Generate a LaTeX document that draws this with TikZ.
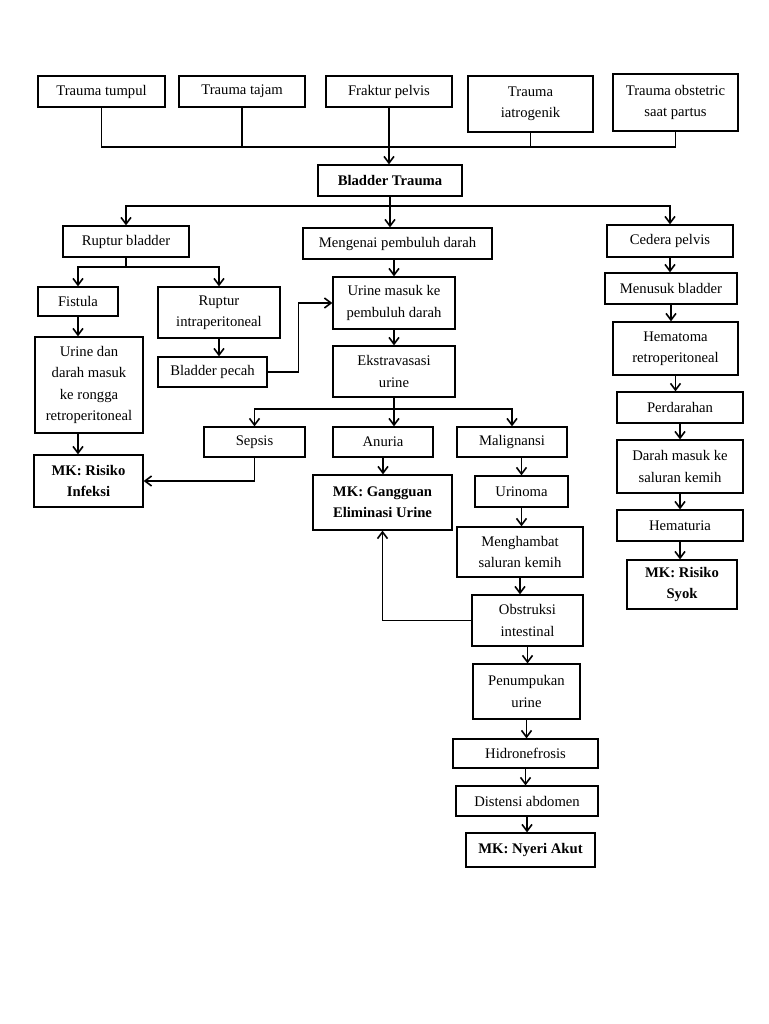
\documentclass[tikz,border=0pt]{standalone}
\usepackage{fontspec}
\setmainfont{Liberation Serif}
\usetikzlibrary{arrows.meta}

\begin{document}
\begin{tikzpicture}[x=0.75pt, y=-0.75pt,
  box/.style={draw, line width=0.9pt, align=center, inner sep=1pt,
    font=\fontsize{11}{16}\selectfont},
  mk/.style={box, font=\fontsize{11}{16}\selectfont\bfseries},
  link/.style={line width=0.8pt},
  arr/.style={line width=0.8pt, -{Straight Barb[length=5pt, width=7.5pt, line width=1.2pt]}}]
  \useasboundingbox (0,0) rectangle (768,1024);

  % Causes
  \node[box, minimum width=95.25pt, minimum height=23.25pt] (tumpul) at (101.5,91.5) {Trauma tumpul};
  \node[box, minimum width=94.5pt, minimum height=23.25pt] (tajam) at (242,91.5) {Trauma tajam};
  \node[box, minimum width=94.5pt, minimum height=23.25pt] (fraktur) at (389,91.5) {Fraktur pelvis};
  \node[box, minimum width=93.75pt, minimum height=42pt] (iatro) at (530.5,104) {Trauma\\iatrogenik};
  \node[box, minimum width=93.75pt, minimum height=42.75pt] (obstet) at (675.5,102.5) {Trauma obstetric\\saat partus};

  % Bladder trauma
  \node[mk, minimum width=108pt, minimum height=23.25pt] (bladder) at (390,180.5) {Bladder Trauma};

  % Second level
  \node[box, minimum width=94.5pt, minimum height=23.25pt] (ruptur) at (126,241.5) {Ruptur bladder};
  \node[box, minimum width=141.75pt, minimum height=23.25pt] (mengenai) at (397.5,243.5) {Mengenai pembuluh darah};
  \node[box, minimum width=94.5pt, minimum height=24pt] (cedera) at (670,241) {Cedera pelvis};

  % Left column
  \node[box, minimum width=60pt, minimum height=21.75pt] (fistula) at (78,301.5) {Fistula};
  \node[box, minimum width=91.5pt, minimum height=38.25pt] (intraper) at (219,312.5) {Ruptur\\intraperitoneal};
  \node[box, minimum width=81.75pt, minimum height=22.5pt] (pecah) at (212.5,372) {Bladder pecah};
  \node[box, minimum width=81pt, minimum height=72pt] (urdarah) at (89,385) {Urine dan\\darah masuk\\ke rongga\\retroperitoneal};
  \node[mk, minimum width=81.75pt, minimum height=39pt] (infeksi) at (88.5,481) {MK: Risiko\\Infeksi};

  % Middle column
  \node[box, minimum width=91.5pt, minimum height=39pt] (urmasuk) at (394,303) {Urine masuk ke\\pembuluh darah};
  \node[box, minimum width=91.5pt, minimum height=38.25pt] (ekstra) at (394,371.5) {Ekstravasasi\\urine};
  \node[box, minimum width=75.75pt, minimum height=22.5pt] (sepsis) at (254.5,442) {Sepsis};
  \node[box, minimum width=75pt, minimum height=22.5pt] (anuria) at (383,442) {Anuria};
  \node[box, minimum width=82.5pt, minimum height=22.5pt] (malig) at (512,442) {Malignansi};
  \node[mk, minimum width=104.25pt, minimum height=41.25pt] (elimin) at (382.5,502.5) {MK: Gangguan\\Eliminasi Urine};
  \node[box, minimum width=69.75pt, minimum height=23.25pt] (urinoma) at (521.5,491.5) {Urinoma};
  \node[box, minimum width=94.5pt, minimum height=37.5pt] (hambat) at (520,552) {Menghambat\\saluran kemih};
  \node[box, minimum width=83.25pt, minimum height=38.25pt] (obstruksi) at (527.5,620.5) {Obstruksi\\intestinal};
  \node[box, minimum width=80.25pt, minimum height=41.25pt] (numpuk) at (526.5,691.5) {Penumpukan\\urine};
  \node[box, minimum width=108.75pt, minimum height=21.75pt] (hidro) at (525.5,753.5) {Hidronefrosis};
  \node[box, minimum width=106.5pt, minimum height=22.5pt] (distensi) at (527,801) {Distensi abdomen};
  \node[mk, minimum width=96.75pt, minimum height=25.5pt] (nyeri) at (530.5,850) {MK: Nyeri Akut};

  % Right column
  \node[box, minimum width=99pt, minimum height=23.25pt] (menusuk) at (671,288.5) {Menusuk bladder};
  \node[box, minimum width=93.75pt, minimum height=39.75pt] (hematoma) at (675.5,348.5) {Hematoma\\retroperitoneal};
  \node[box, minimum width=94.5pt, minimum height=23.25pt] (perdarahan) at (680,407.5) {Perdarahan};
  \node[box, minimum width=94.5pt, minimum height=39.75pt] (darahkemih) at (680,466.5) {Darah masuk ke\\saluran kemih};
  \node[box, minimum width=94.5pt, minimum height=23.25pt] (hematuria) at (680,525.5) {Hematuria};
  \node[mk, minimum width=82.5pt, minimum height=36.75pt] (syok) at (682,584.5) {MK: Risiko\\Syok};

  % Junctions
  \coordinate (bus1) at (389,147);
  \coordinate (bus2) at (390,206);
  \coordinate (bus3) at (126,267);
  \coordinate (bus4) at (394,409);

  % Causes to bladder trauma
  \draw[link] (tumpul.south) |- (bus1) -| (obstet.south);
  \draw[link] (tajam.south) -- (tajam.south |- bus1);
  \draw[link] (iatro.south) -- (iatro.south |- bus1);
  \draw[arr] (fraktur.south) -- (fraktur.south |- bladder.north);

  % Bladder trauma branches
  \draw[link] (bladder.south) -- (bus2);
  \draw[arr] (bus2) -| (ruptur.north);
  \draw[arr] (bus2) -| (cedera.north);
  \draw[arr] (bus2) -- (bus2 |- mengenai.north);

  % Left column
  \draw[link] (ruptur.south) -- (bus3);
  \draw[arr] (bus3) -| (fistula.north);
  \draw[arr] (bus3) -| (intraper.north);
  \draw[arr] (intraper.south) -- (intraper.south |- pecah.north);
  \draw[arr] (pecah.east) -- ++(31,0) |- (urmasuk.west);
  \draw[arr] (fistula.south) -- (fistula.south |- urdarah.north);
  \draw[arr] (fistula.south |- urdarah.south) -- (fistula.south |- infeksi.north);

  % Middle column
  \draw[arr] (urmasuk.north |- mengenai.south) -- (urmasuk.north);
  \draw[arr] (urmasuk.south) -- (ekstra.north);
  \draw[link] (ekstra.south) -- (bus4);
  \draw[arr] (bus4) -| (sepsis.north);
  \draw[arr] (bus4) -| (malig.north);
  \draw[arr] (bus4) -- (bus4 |- anuria.north);
  \draw[arr] (sepsis.south) |- (infeksi.east);
  \draw[arr] (anuria.south) -- (anuria.south |- elimin.north);
  \draw[arr] (urinoma.north |- malig.south) -- (urinoma.north);
  \draw[arr] (urinoma.south) -- (urinoma.south |- hambat.north);
  \draw[arr] (hambat.south) -- (hambat.south |- obstruksi.north);
  \draw[arr] (obstruksi.west) -| (elimin.south);
  \draw[arr] (obstruksi.south) -- (obstruksi.south |- numpuk.north);
  \draw[arr] (numpuk.south) -- (numpuk.south |- hidro.north);
  \draw[arr] (hidro.south) -- (hidro.south |- distensi.north);
  \draw[arr] (distensi.south) -- (distensi.south |- nyeri.north);

  % Right column
  \draw[arr] (cedera.south) -- (cedera.south |- menusuk.north);
  \draw[arr] (menusuk.south) -- (menusuk.south |- hematoma.north);
  \draw[arr] (hematoma.south) -- (hematoma.south |- perdarahan.north);
  \draw[arr] (perdarahan.south) -- (perdarahan.south |- darahkemih.north);
  \draw[arr] (darahkemih.south) -- (darahkemih.south |- hematuria.north);
  \draw[arr] (hematuria.south) -- (hematuria.south |- syok.north);
\end{tikzpicture}
\end{document}
